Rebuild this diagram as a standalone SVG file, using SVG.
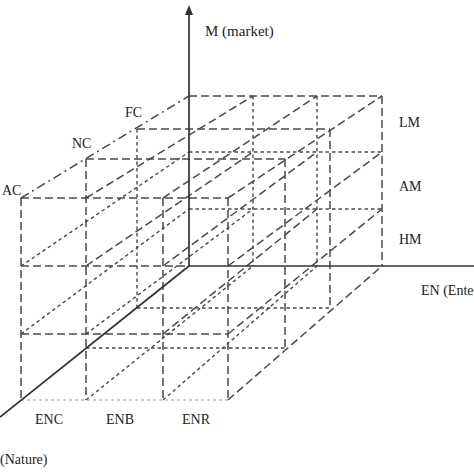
<svg xmlns="http://www.w3.org/2000/svg" width="474" height="474" viewBox="0 0 474 474">
<style>
.ax{stroke:#333;stroke-width:1.7;fill:none}
.d{stroke:#4a4a4a;stroke-width:1.5;stroke-dasharray:8 4;fill:none}
.s{stroke:#4a4a4a;stroke-width:1.4;stroke-dasharray:3.5 3;fill:none}
.dd{stroke:#4a4a4a;stroke-width:1.5;stroke-dasharray:9 4 2 4;fill:none}
.l{stroke:#bbb;stroke-width:1.4;stroke-dasharray:3 3;fill:none}
.t{font-family:"Liberation Serif","Times New Roman",serif;font-size:14px;fill:#222}
</style>
<rect width="474" height="474" fill="#fff"/>
<g id="back-plane">
<line class="d" x1="189" y1="96" x2="382" y2="96"/>
<line class="s" x1="189" y1="152" x2="382" y2="152"/>
<line class="s" x1="189" y1="209" x2="382" y2="209"/>
<line class="s" x1="253" y1="96" x2="253" y2="266"/>
<line class="s" x1="317" y1="96" x2="317" y2="266"/>
<line class="d" x1="382" y1="96" x2="382" y2="266"/>
</g>
<g id="fc-plane">
<line class="d" x1="137" y1="129" x2="330" y2="129"/>
<line class="s" x1="137" y1="308" x2="330" y2="308"/>
<line class="s" x1="137" y1="129" x2="137" y2="308"/>
<line class="d" x1="330" y1="129" x2="330" y2="308"/>
</g>
<g id="nc-plane">
<line class="d" x1="86" y1="159" x2="285" y2="159"/>
<line class="s" x1="86" y1="348" x2="285" y2="348"/>
<line class="d" x1="86" y1="159" x2="86" y2="400"/>
<line class="d" x1="285" y1="159" x2="285" y2="348"/>
</g>
<g id="ac-plane">
<line class="d" x1="21" y1="198" x2="228" y2="198"/>
<line class="d" x1="21" y1="266" x2="189" y2="266"/>
<line class="d" x1="21" y1="334" x2="228" y2="334"/>
<line class="l" x1="21" y1="400" x2="228" y2="400"/>
<line class="d" x1="21" y1="198" x2="21" y2="400"/>
<line class="d" x1="163" y1="198" x2="163" y2="400"/>
<line class="d" x1="228" y1="198" x2="228" y2="400"/>
</g>
<g id="connectors">
<line class="dd" x1="21" y1="198" x2="189" y2="96"/>
<line class="s" x1="21" y1="266" x2="189" y2="152"/>
<line class="s" x1="21" y1="334" x2="189" y2="209"/>
<line class="d" x1="86" y1="198" x2="253" y2="96"/>
<line class="d" x1="86" y1="266" x2="253" y2="152"/>
<line class="s" x1="86" y1="334" x2="253" y2="209"/>
<line class="s" x1="86" y1="400" x2="253" y2="266"/>
<line class="d" x1="163" y1="198" x2="317" y2="96"/>
<line class="d" x1="163" y1="266" x2="317" y2="152"/>
<line class="d" x1="163" y1="334" x2="317" y2="209"/>
<line class="s" x1="163" y1="400" x2="317" y2="266"/>
<line class="d" x1="228" y1="198" x2="382" y2="96"/>
<line class="d" x1="228" y1="266" x2="382" y2="152"/>
<line class="d" x1="228" y1="334" x2="382" y2="209"/>
<line class="d" x1="228" y1="400" x2="382" y2="266"/>
</g>
<g id="axes">
<line class="ax" x1="189" y1="266" x2="189" y2="14"/>
<polygon points="189,5 185,15 193,15" fill="#333"/>
<line class="ax" x1="189" y1="266" x2="474" y2="266"/>
<line class="ax" x1="189" y1="266" x2="0" y2="417"/>
</g>
<g id="labels" class="t" font-family="Liberation Serif, Times New Roman, serif">
<text x="205" y="36" font-size="15">M (market)</text>
<text x="399" y="127">LM</text>
<text x="399" y="191">AM</text>
<text x="399" y="244">HM</text>
<text x="421" y="295">EN (Ente</text>
<text x="2" y="195">AC</text>
<text x="72" y="148">NC</text>
<text x="125" y="117">FC</text>
<text x="35" y="424">ENC</text>
<text x="106" y="424">ENB</text>
<text x="182" y="424">ENR</text>
<text x="0" y="464">(Nature)</text>
</g>
</svg>
